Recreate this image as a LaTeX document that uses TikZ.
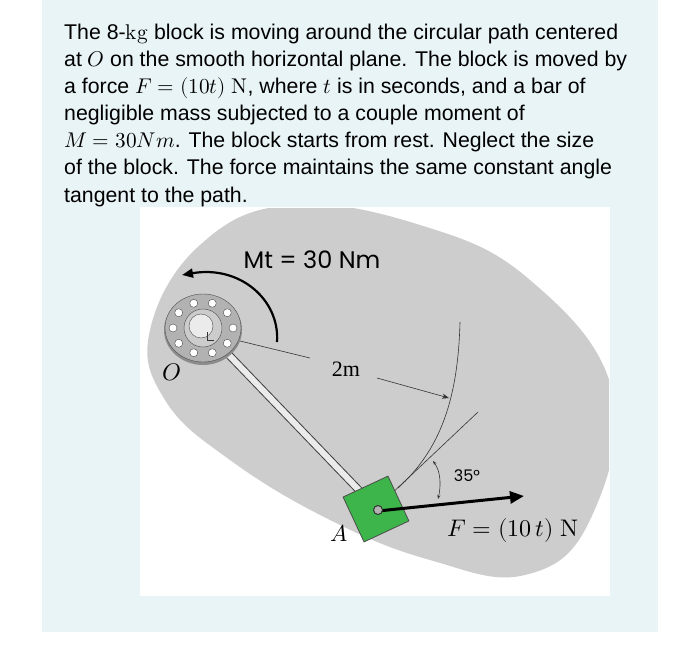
\documentclass[tikz,border=0pt]{standalone}
\usepackage{fontspec}
\usepackage{unicode-math}
\setmainfont{Liberation Sans}
\setmathfont{Latin Modern Math}
\newfontfamily\geo{Poppins}
\newfontfamily\serifrm{Liberation Serif}
\usetikzlibrary{arrows.meta,calc}
\definecolor{panel}{HTML}{E9F4F6}
\definecolor{blob}{HTML}{CDCDCD}
\definecolor{grn}{HTML}{3DB54A}
\tikzset{txt/.style={anchor=base west,inner sep=0,font=\fontsize{21.3}{25}\selectfont},
thin/.style={draw=black!80,line width=0.6pt}}
\begin{document}
\begin{tikzpicture}[x=1pt,y=-1pt]
\useasboundingbox (0,0) rectangle (700,660);
\fill[panel] (42,0) rectangle (658,632);
\node[txt] (l1) at (64,40) {The 8-$\symup{kg}$ block is moving around the circular path centered};
\node[txt] (l2) at (64,67) {at $O$ on the smooth horizontal plane. The block is moved by};
\node[txt] (l3) at (64,94) {a force $F=(10t)\ \symup{N}$, where $t$ is in seconds, and a bar of};
\node[txt] (l4) at (64,121) {negligible mass subjected to a couple moment of};
\node[txt] (l5) at (64,148) {$M=30Nm$. The block starts from rest. Neglect the size};
\node[txt] (l6) at (64,175) {of the block. The force maintains the same constant angle};
\node[txt] (l7) at (64,202) {tangent to the path.};
\fill[white] (140,207) rectangle (610,596);
\begin{scope}
\clip (141,208) rectangle (609,595);
\fill[blob] plot[smooth cycle,tension=0.7] coordinates {(150,330) (200,245) (290,205) (420,225) (530,280) (612,390) (590,520) (525,575) (430,560) (330,520) (230,460) (165,400)};
\end{scope}
% rod
\draw[line width=8pt,black!75] (203,328) -- (378,510);
\draw[line width=6pt,black!8] (203,328) -- (378,510);
% hub
\fill[black!45] (203,330) ellipse (39 and 35);
\draw[black!70,fill=black!30] (203,328) ellipse (38 and 34);
\foreach \a in {0,36,...,324}{\draw[fill=white,draw=black!70] ($(203,328)+(\a:30 and 26)$) circle (4);}
\draw[draw=black!70,fill=black!20] (203,328) circle (19);
\draw[draw=black!70,fill=black!8] (201,326) circle (12);
\draw[thin] (207,332) -- (207,340) -- (214,340);
% moment arrow
\draw[line width=2.2pt,-{Triangle[length=11pt,width=9pt]}] (277,342) .. controls (280,300) and (240,265) .. (182,275);
\node[inner sep=0,font=\geo\fontsize{24}{26}\selectfont] (mt) at (312,260) {Mt = 30 Nm};
\node[inner sep=0,font=\fontsize{24}{26}\selectfont] (o) at (172,372) {$O$};
% dimension
\coordinate (d1) at (240,341);
\coordinate (d2) at (310,358);
\coordinate (d3) at (377,378);
\coordinate (d4) at (449,398);
\draw[thin] (d1) -- (d2);
\draw[thin,-{Stealth[length=7pt]}] (d3) -- (d4);
\node[inner sep=0,font=\serifrm\fontsize{22}{24}\selectfont] (tm) at (346,369) {2m};
% path
\draw[thin] (460,322) .. controls (458,400) and (440,450) .. (398,488);
\draw[thin] (388,497) -- (478,412);
% block
\coordinate (c) at (376,509);
\draw[fill=grn,draw=black!70,line width=0.8pt] ($(c)+(-70:35)$) -- ($(c)+(20:35)$) -- ($(c)+(110:35)$) -- ($(c)+(200:35)$) -- cycle;
% force
\draw[line width=3pt,-{Triangle[length=14pt,width=12pt]}] (378,511) -- (524,496);
\draw[draw=black!80,fill=black!30,line width=1pt] (378,510) circle (4.5);
\draw[thin,{Stealth[length=4pt]}-{Stealth[length=4pt]}] (433,461) .. controls (441,472) and (441,486) .. (438,499);
\node[inner sep=0,font=\geo\fontsize{16}{18}\selectfont] (ang) at (467,476) {35°};
\node[inner sep=0,font=\fontsize{24}{26}\selectfont] (f) at (513,530) {$F=(10\,t)\ \symup{N}$};
\node[inner sep=0,font=\fontsize{23}{25}\selectfont] (a) at (339,533) {$A$};
\end{tikzpicture}
\end{document}
